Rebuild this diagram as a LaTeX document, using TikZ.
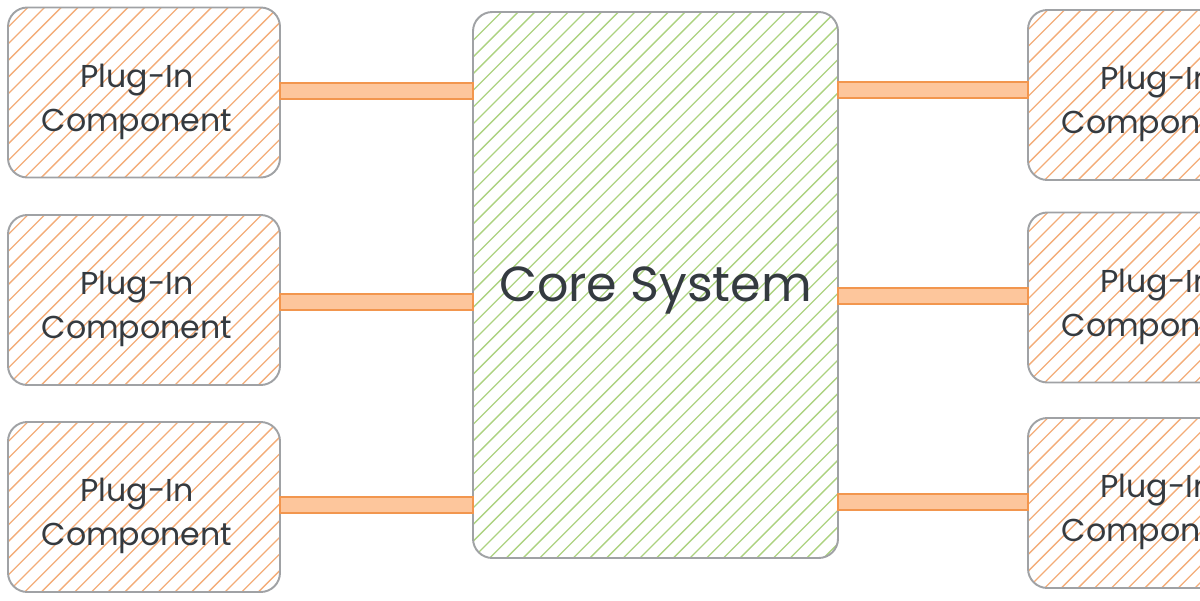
\documentclass[tikz,border=0pt]{standalone}
\usepackage{fontspec}
\setmainfont{Poppins}
\usepackage{tikz}
\usepackage{xcolor}
\definecolor{hatchorange}{RGB}{243,172,120}
\definecolor{hatchgreen}{RGB}{172,210,128}
\definecolor{boxgray}{RGB}{160,162,165}
\definecolor{barfill}{RGB}{253,198,156}
\definecolor{barline}{RGB}{242,150,78}
\definecolor{inkgray}{RGB}{52,58,64}

\newcommand{\plugtext}{\raisebox{-4.5pt}[\height][\depth]{\begin{tabular}{@{}c@{}}Plug-In\\Component\end{tabular}}\hspace*{8pt}}

\tikzset{
    hatch/.style={path picture={
        \foreach \k in {-45,...,35} {
            \draw[#1,line width=0.75pt] ([xshift=\k*9.5pt]path picture bounding box.south west) -- ++(12,12);
        }
    }},
    plugbox/.style={draw=boxgray,line width=1.1pt,rounded corners=11pt,hatch=hatchorange,
        minimum width=5.44cm,minimum height=3.4cm,text=inkgray,
        font=\fontsize{18}{25}\selectfont},
    corebox/.style={draw=boxgray,line width=1.1pt,rounded corners=11pt,hatch=hatchgreen,
        minimum width=7.3cm,minimum height=10.92cm,text=inkgray,
        font=\fontsize{28}{30}\selectfont},
    bar/.style={line width=8.4pt,draw=barfill,
        preaction={draw=barline,line width=10.8pt,shorten <=-1.2pt,shorten >=-1.2pt}},
}

\begin{document}
\begin{tikzpicture}
                \useasboundingbox (0,0) rectangle (24,12);
                \clip (0,0) rectangle (24,12);

                \node[corebox] (core) at (13.11,6.3) {\raisebox{-3pt}[\height][\depth]{Core System}};

                \node[plugbox] (lp1) at (2.88,10.15) {\plugtext};
                \node[plugbox] (lp2) at (2.88,6.0) {\plugtext};
                \node[plugbox] (lp3) at (2.88,1.86) {\plugtext};

                \node[plugbox] (rp1) at (23.28,10.1) {\plugtext};
                \node[plugbox] (rp2) at (23.28,6.05) {\plugtext};
                \node[plugbox] (rp3) at (23.28,1.94) {\plugtext};

                \draw[bar] (lp1.east |- 0,10.18) -- (core.west |- 0,10.18);
                \draw[bar] (lp2.east |- 0,5.96) -- (core.west |- 0,5.96);
                \draw[bar] (lp3.east |- 0,1.9) -- (core.west |- 0,1.9);
                \draw[bar] (core.east |- 0,10.2) -- (rp1.west |- 0,10.2);
                \draw[bar] (core.east |- 0,6.08) -- (rp2.west |- 0,6.08);
                \draw[bar] (core.east |- 0,1.96) -- (rp3.west |- 0,1.96);
            \end{tikzpicture}
\end{document}
